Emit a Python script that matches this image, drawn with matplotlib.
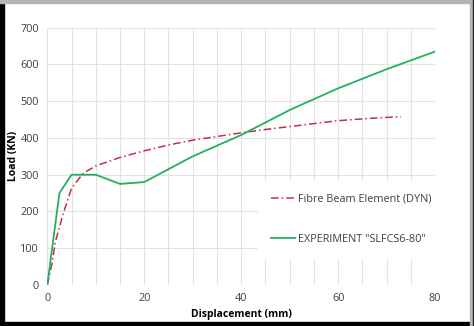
import matplotlib
matplotlib.use("Agg")
import matplotlib.pyplot as plt
from matplotlib.patches import Rectangle

exp_x = [0, 2.5, 5, 10, 15, 20, 30, 40, 50, 60, 70, 80]
exp_y = [0, 250, 300, 300, 275, 280, 350, 408, 476, 535, 587, 635]

fib_x = [0, 1, 1.6, 3.3, 5, 7.4, 10, 15, 20, 25, 30, 35, 40, 45, 50, 55, 60, 65, 70, 73]
fib_y = [0, 60, 114, 195, 263, 304, 324, 347, 365, 381, 394, 404, 414, 423, 431, 439, 447, 452, 456, 458]

x_ticks = [0, 20, 40, 60, 80]
y_ticks = [0, 100, 200, 300, 400, 500, 600, 700]

plt.rcParams['font.family'] = ['Open Sans', 'DejaVu Sans']

fig = plt.figure(figsize=(4.74, 3.26), dpi=100)
ax = fig.add_axes([47.3/474, 1-285/326, (435-47.3)/474, (285-27.7)/326])

ax.plot(fib_x, fib_y, color='#c0304a', linestyle=(0, (5, 2, 1, 2)), linewidth=1.1,
        label='Fibre Beam Element (DYN)', zorder=3)
ax.plot(exp_x, exp_y, color='#22b060', linewidth=1.3,
        label='EXPERIMENT "SLFCS6-80"', zorder=4)

ax.set_xlim(0, 80)
ax.set_ylim(0, 700)
ax.set_xticks(x_ticks)
ax.set_xticks(range(0, 81, 5), minor=True)
ax.set_yticks(y_ticks)
ax.grid(True, which='both', axis='x', color='#e3e3e3', linewidth=0.8)
ax.grid(True, which='major', axis='y', color='#e3e3e3', linewidth=0.8)
ax.set_axisbelow(True)
for s in ax.spines.values():
    s.set_visible(False)
ax.tick_params(which='both', length=0, labelsize=7.8, labelcolor='#404040', pad=6)
ax.set_xlabel('Displacement (mm)', fontsize=7.5, fontweight='bold', labelpad=3)
ax.set_ylabel('Load (KN)', fontsize=7.5, fontweight='bold', labelpad=1)

leg = ax.legend(loc='center left', bbox_to_anchor=(0.53, 0.255), frameon=True,
                fontsize=7.8, labelspacing=2.7, handlelength=2.2, handletextpad=0.3,
                borderpad=1.2, fancybox=False)
leg.get_frame().set_edgecolor('white')
leg.get_frame().set_facecolor('white')
leg.get_frame().set_alpha(1)
for t in leg.get_texts():
    t.set_color('#404040')

# image borders
fig.patches.append(Rectangle((0, 0), 4/474, 1, transform=fig.transFigure, color='black', zorder=10))
fig.patches.append(Rectangle((0, 0), 1, 4.5/326, transform=fig.transFigure, color='black', zorder=10))
fig.patches.append(Rectangle((0, 1-2.5/326), 1, 2.5/326, transform=fig.transFigure, color='#b5b5b5', zorder=10))
fig.patches.append(Rectangle((470/474, 0), 2.5/474, 1, transform=fig.transFigure, color='#b5b5b5', zorder=10))
fig.patches.append(Rectangle((472.5/474, 0), 1.5/474, 1, transform=fig.transFigure, color='#202020', zorder=10))

fig.savefig('out.png', dpi=100)
